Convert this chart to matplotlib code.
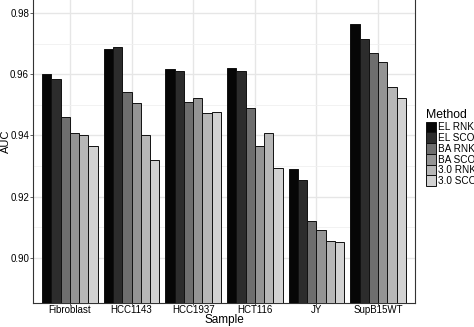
import matplotlib
matplotlib.use("Agg")
import matplotlib.pyplot as plt
import numpy as np

plt.rcParams['font.family'] = ['Liberation Sans', 'DejaVu Sans']

samples = ["Fibroblast", "HCC1143", "HCC1937", "HCT116", "JY", "SupB15WT"]
methods = ["EL RNK", "EL SCORE", "BA RNK", "BA SCORE", "3.0 RNK", "3.0 SCORE"]

auc_el_rnk = [0.9602, 0.9681, 0.9617, 0.9621, 0.9291, 0.9765]
auc_el_score = [0.9584, 0.9690, 0.9611, 0.9610, 0.9255, 0.9716]
auc_ba_rnk = [0.9459, 0.9543, 0.9509, 0.9491, 0.9120, 0.9670]
auc_ba_score = [0.9408, 0.9506, 0.9521, 0.9365, 0.9092, 0.9639]
auc_30_rnk = [0.9402, 0.9402, 0.9474, 0.9408, 0.9055, 0.9558]
auc_30_score = [0.9365, 0.9321, 0.9478, 0.9294, 0.9051, 0.9521]

series = [auc_el_rnk, auc_el_score, auc_ba_rnk, auc_ba_score, auc_30_rnk, auc_30_score]
fills = ["#060606", "#2c2c2c", "#6e6e6e", "#949494", "#b7b7b7", "#d2d2d2"]

W, H = 474, 327
fig = plt.figure(figsize=(W / 100, H / 100), dpi=100)
left_px, right_px, bottom_px, top_px = 33, 415, 302.7, -3
ax = fig.add_axes([left_px / W, (H - bottom_px) / H,
                   (right_px - left_px) / W, (bottom_px - top_px) / H])

x = np.arange(len(samples))
bw = 0.15
for i, (vals, col) in enumerate(zip(series, fills)):
    ax.bar(x + (i - 2.5) * bw, vals, width=bw, bottom=0, color=col,
           edgecolor="#111111", linewidth=0.7, label=methods[i], zorder=3)

ax.set_xlim(-0.6, len(samples) - 0.4)
ax.set_ylim(0.8854, 0.98522)

ax.set_yticks([0.90, 0.92, 0.94, 0.96, 0.98])
ax.set_yticklabels(["0.90", "0.92", "0.94", "0.96", "0.98"])
ax.set_yticks([0.91, 0.93, 0.95, 0.97], minor=True)
ax.set_xticks(x)
ax.set_xticklabels(samples)

ax.grid(True, which="major", color="#e6e6e6", linewidth=1.0, zorder=0)
ax.grid(True, which="minor", axis="y", color="#f0f0f0", linewidth=0.6, zorder=0)
ax.tick_params(axis="both", which="major", length=2, width=0.6, color="#444444",
               labelsize=7, labelcolor="black", pad=0.8)
ax.tick_params(axis="x", which="major", length=1.6, pad=0.2)
ax.tick_params(axis="y", which="minor", length=0)
for s in ax.spines.values():
    s.set_color("#333333")
    s.set_linewidth(0.8)

# axis titles placed in figure pixels
fig.text((left_px + right_px) / 2 / W, 1 - 320.5 / H, "Sample",
         fontsize=8.5, ha="center", va="center")
fig.text(6 / W, 1 - 141 / H, "AUC", fontsize=8, rotation=90,
         ha="center", va="center")

leg = ax.legend(title="Method", loc="upper left",
                bbox_to_anchor=(426 / W, 1 - 109.5 / H),
                bbox_transform=fig.transFigure,
                frameon=False, fontsize=7.2, title_fontsize=8.8,
                handlelength=1.0, handleheight=1.28, handletextpad=0.15,
                labelspacing=0.0, borderaxespad=0.0, borderpad=0.0)
leg._legend_box.align = "left"

fig.savefig("out.png", dpi=100)
